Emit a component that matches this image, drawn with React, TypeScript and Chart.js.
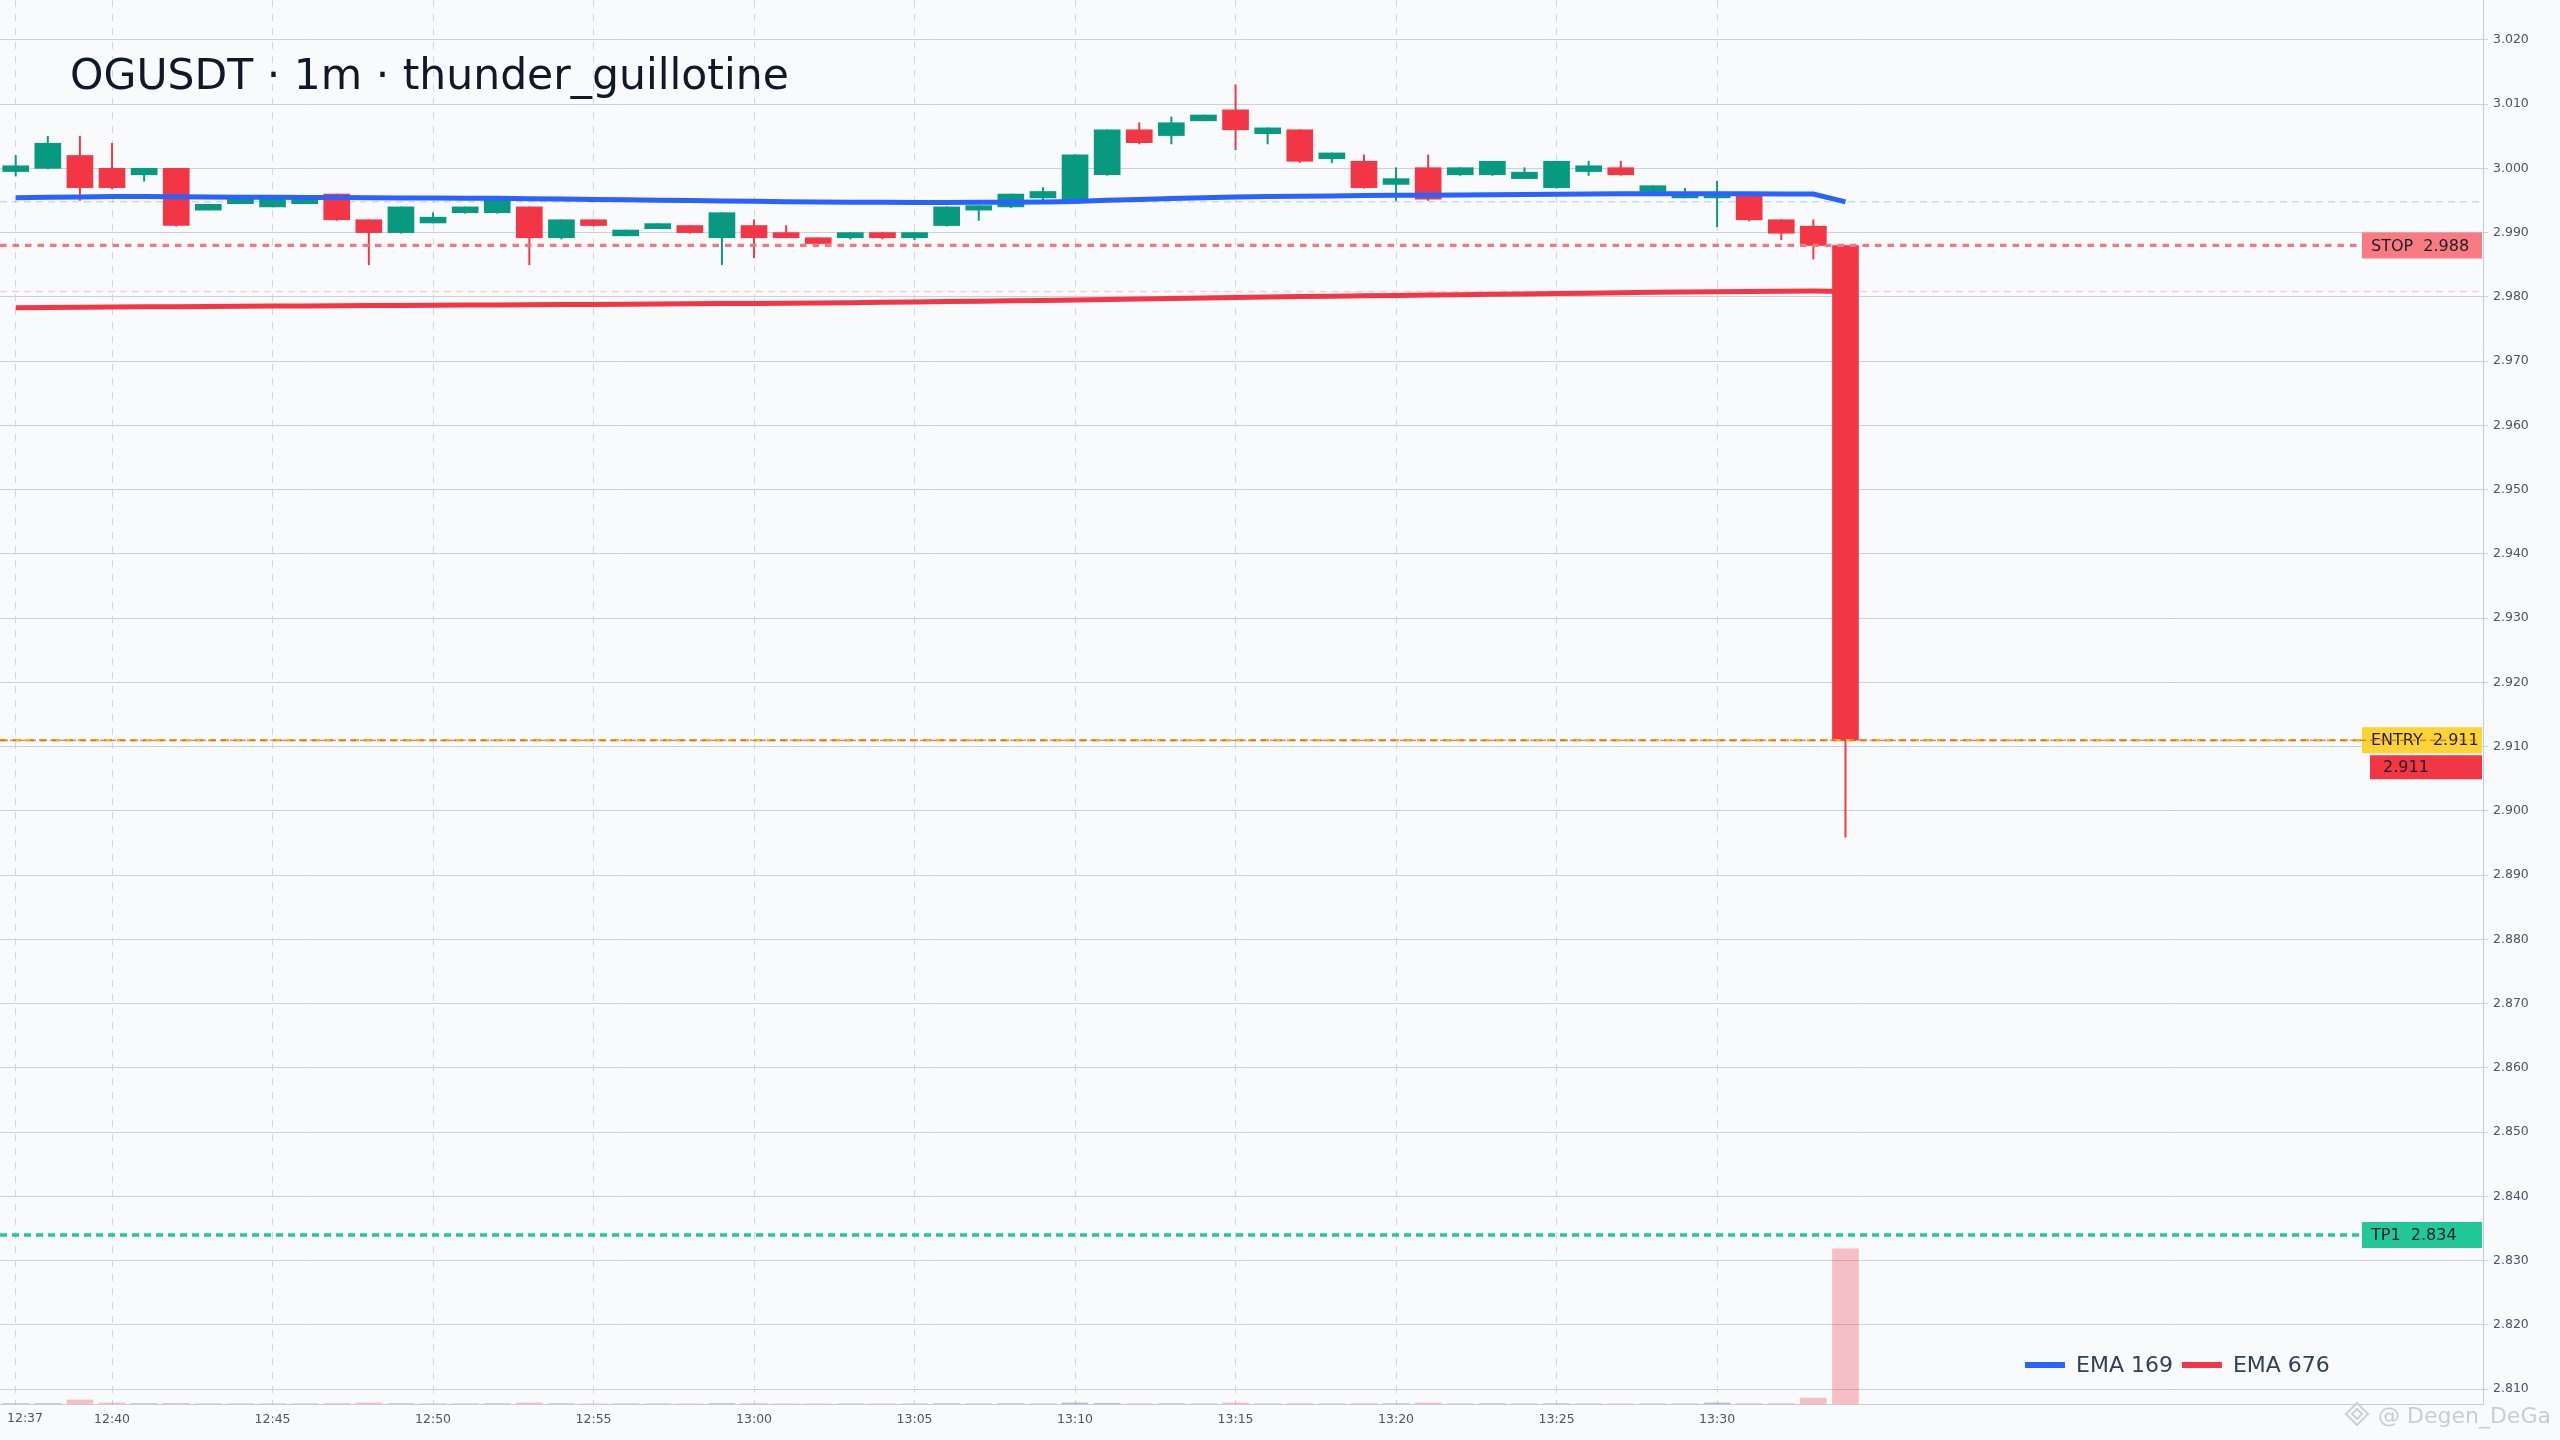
import React, { useEffect, useRef } from 'react';
import { Chart, registerables } from 'chart.js';

Chart.register(...registerables);

// ---- data ----
const TITLE = 'OGUSDT · 1m · thunder_guillotine';

const OPEN = [
  2.9995, 3.0000, 3.0020, 3.0000, 2.9990, 3.0000, 2.9935, 2.9945, 2.9940, 2.9945,
  2.9960, 2.9920, 2.9900, 2.9915, 2.9931, 2.9931, 2.9940, 2.9892, 2.9920, 2.9895,
  2.9906, 2.9911, 2.9892, 2.9911, 2.9900, 2.9892, 2.9892, 2.9900, 2.9892, 2.9911,
  2.9935, 2.9940, 2.9954, 2.9951, 2.9990, 3.0060, 3.0051, 3.0074, 3.0091, 3.0054,
  3.0060, 3.0015, 3.0011, 2.9975, 3.0001, 2.9990, 2.9990, 2.9984, 2.9970, 2.9995,
  3.0001, 2.9964, 2.9954, 2.9954, 2.9957, 2.9920, 2.9910, 2.9880,
];
const HIGH = [
  3.0020, 3.0050, 3.0050, 3.0039, 3.0000, 3.0000, 2.9944, 2.9955, 2.9955, 2.9955,
  2.9960, 2.9920, 2.9940, 2.9931, 2.9940, 2.9951, 2.9940, 2.9920, 2.9920, 2.9904,
  2.9914, 2.9911, 2.9931, 2.9920, 2.9911, 2.9892, 2.9900, 2.9900, 2.9900, 2.9940,
  2.9942, 2.9960, 2.9970, 3.0021, 3.0060, 3.0071, 3.0080, 3.0083, 3.0130, 3.0063,
  3.0060, 3.0024, 3.0021, 3.0001, 3.0021, 3.0001, 3.0011, 3.0001, 3.0011, 3.0011,
  3.0011, 2.9973, 2.9969, 2.9980, 2.9957, 2.9920, 2.9920, 2.9880,
];
const LOW = [
  2.9988, 2.9999, 2.9950, 2.9968, 2.9980, 2.9910, 2.9935, 2.9945, 2.9940, 2.9945,
  2.9919, 2.9850, 2.9899, 2.9915, 2.9930, 2.9930, 2.9850, 2.9890, 2.9910, 2.9895,
  2.9906, 2.9899, 2.9850, 2.9861, 2.9892, 2.9883, 2.9890, 2.9890, 2.9889, 2.9910,
  2.9919, 2.9939, 2.9950, 2.9951, 2.9989, 3.0038, 3.0038, 3.0074, 3.0029, 3.0038,
  3.0009, 3.0009, 2.9969, 2.9950, 2.9950, 2.9989, 2.9989, 2.9984, 2.9969, 2.9989,
  2.9989, 2.9964, 2.9954, 2.9909, 2.9918, 2.9889, 2.9859, 2.8959,
];
const CLOSE = [
  3.0004, 3.0039, 2.9970, 2.9970, 3.0000, 2.9911, 2.9944, 2.9955, 2.9955, 2.9955,
  2.9920, 2.9900, 2.9940, 2.9924, 2.9940, 2.9951, 2.9892, 2.9920, 2.9911, 2.9904,
  2.9914, 2.9900, 2.9931, 2.9892, 2.9892, 2.9883, 2.9900, 2.9892, 2.9900, 2.9940,
  2.9942, 2.9960, 2.9964, 3.0021, 3.0060, 3.0040, 3.0071, 3.0083, 3.0060, 3.0063,
  3.0011, 3.0024, 2.9970, 2.9984, 2.9952, 3.0001, 3.0011, 2.9994, 3.0011, 3.0004,
  2.9990, 2.9973, 2.9959, 2.9959, 2.9920, 2.9899, 2.9880, 2.9110,
];
const VOLUME = [
  2, 3, 26, 7, 2, 4, 1, 1, 1, 1,
  3, 7, 2, 1, 1, 2, 7, 2, 1, 1,
  1, 1, 3, 3, 1, 1, 1, 1, 1, 2,
  1, 2, 1, 7, 4, 2, 2, 1, 7, 1,
  3, 1, 3, 2, 7, 1, 2, 1, 2, 1,
  1, 1, 1, 7, 3, 3, 38, 1000,
];
const EMA169 = [
  2.99544, 2.99550, 2.99556, 2.99560, 2.99563, 2.99558, 2.99555, 2.99552, 2.99550, 2.99548,
  2.99546, 2.99542, 2.99540, 2.99537, 2.99535, 2.99533, 2.99528, 2.99524, 2.99515, 2.99510,
  2.99505, 2.99498, 2.99493, 2.99488, 2.99482, 2.99478, 2.99474, 2.99471, 2.99470, 2.99470,
  2.99472, 2.99474, 2.99476, 2.99486, 2.99502, 2.99517, 2.99530, 2.99542, 2.99553, 2.99560,
  2.99566, 2.99570, 2.99577, 2.99580, 2.99583, 2.99586, 2.99590, 2.99594, 2.99598, 2.99602,
  2.99605, 2.99606, 2.99605, 2.99604, 2.99603, 2.99602, 2.99600, 2.99479,
];
const EMA676 = [
  2.97830, 2.97835, 2.97840, 2.97843, 2.97846, 2.97848, 2.97850, 2.97853, 2.97856, 2.97858,
  2.97861, 2.97864, 2.97866, 2.97869, 2.97872, 2.97875, 2.97878, 2.97880, 2.97883, 2.97886,
  2.97889, 2.97892, 2.97895, 2.97898, 2.97901, 2.97905, 2.97910, 2.97915, 2.97920, 2.97926,
  2.97932, 2.97938, 2.97944, 2.97951, 2.97958, 2.97966, 2.97974, 2.97982, 2.97990, 2.97997,
  2.98004, 2.98010, 2.98016, 2.98022, 2.98028, 2.98034, 2.98040, 2.98046, 2.98052, 2.98058,
  2.98064, 2.98070, 2.98076, 2.98081, 2.98085, 2.98088, 2.98090, 2.98085,
];
const TICK_POS = [0, 3, 8, 13, 18, 23, 28, 33, 38, 43, 48, 53];
const TICK_LABELS = ['12:37', '12:40', '12:45', '12:50', '12:55', '13:00', '13:05', '13:10', '13:15', '13:20', '13:25', '13:30'];
const Y_TICKS = [
  2.81, 2.82, 2.83, 2.84, 2.85, 2.86, 2.87, 2.88, 2.89, 2.9, 2.91,
  2.92, 2.93, 2.94, 2.95, 2.96, 2.97, 2.98, 2.99, 3.0, 3.01, 3.02,
];
const STOP = 2.988;
const ENTRY = 2.911;
const TP1 = 2.834;
const LEGEND = ['EMA 169', 'EMA 676'];
const WATERMARK = '@ Degen_DeGa';

// ---- style ----
const GREEN = '#089981';
const RED = '#f23645';
const BLUE = '#2962ff';
const BG = '#f8fafc';
const FONT = "'DejaVu Sans', sans-serif";
const TICK_COLOR = '#4b5563';

function hLine(ctx: CanvasRenderingContext2D, x1: number, x2: number, y: number, color: string, w: number, dash: number[]) {
  ctx.save();
  ctx.strokeStyle = color;
  ctx.lineWidth = w;
  ctx.setLineDash(dash);
  ctx.beginPath();
  ctx.moveTo(x1, y);
  ctx.lineTo(x2, y);
  ctx.stroke();
  ctx.restore();
}

function tag(ctx: CanvasRenderingContext2D, right: number, cy: number, text: string, bg: string, w: number, h: number, pad: number) {
  ctx.save();
  ctx.fillStyle = bg;
  ctx.fillRect(right - w, cy - h / 2, w, h);
  ctx.fillStyle = '#1b1f24';
  ctx.font = `16px ${FONT}`;
  ctx.textAlign = 'left';
  ctx.textBaseline = 'middle';
  ctx.fillText(text, right - w + pad, cy + 1);
  ctx.restore();
}

const overlayPlugin = {
  id: 'overlay',
  beforeDatasetsDraw(chart: any) {
    const { ctx, chartArea: a, scales } = chart;
    const y = scales.y;
    const last = EMA169.length - 1;
    hLine(ctx, a.left, a.right - 4, y.getPixelForValue(EMA169[last]), 'rgba(41,98,255,0.22)', 1.5, [7, 5]);
    hLine(ctx, a.left, a.right - 4, y.getPixelForValue(EMA676[last]), 'rgba(242,54,69,0.22)', 1.5, [7, 5]);
  },
  afterDatasetsDraw(chart: any) {
    const { ctx, chartArea: a, scales } = chart;
    const y = scales.y;
    const x = scales.x;
    const yStop = y.getPixelForValue(STOP);
    const yEntry = y.getPixelForValue(ENTRY);
    const yTp = y.getPixelForValue(TP1);
    const last = CLOSE[CLOSE.length - 1];
    const yLast = y.getPixelForValue(last);

    hLine(ctx, a.left, a.right, yStop, '#f87580', 3.3, [6.5, 6]);
    hLine(ctx, a.left, a.right, yTp, '#20c997', 3.3, [7, 5]);
    hLine(ctx, a.left, a.right, yEntry, '#f0b90b', 2.6, [8, 5]);

    const r = a.right - 1;
    tag(ctx, r, yStop, `STOP  ${STOP.toFixed(3)}`, '#f87a82', 120, 26, 9);
    tag(ctx, r, yEntry, `ENTRY  ${ENTRY.toFixed(3)}`, '#fcd535', 120, 26, 9);
    tag(ctx, r, yTp, `TP1  ${TP1.toFixed(3)}`, '#22c896', 120, 26, 9);
    tag(ctx, r, yLast + 27, last.toFixed(3), RED, 112, 24, 13);

    hLine(ctx, a.left, a.right - 6, yLast, 'rgba(242,54,69,0.9)', 1, [6, 4]);

    // first x tick label kept inside the canvas
    ctx.save();
    ctx.font = `12.5px ${FONT}`;
    ctx.fillStyle = TICK_COLOR;
    ctx.textAlign = 'left';
    ctx.textBaseline = 'top';
    const fw = ctx.measureText(TICK_LABELS[0]).width;
    const fx = Math.max(x.getPixelForValue(TICK_POS[0]) - fw / 2, 7);
    ctx.fillText(TICK_LABELS[0], fx, a.bottom + 8);
    ctx.restore();

    // legend
    ctx.save();
    ctx.font = `22px ${FONT}`;
    ctx.textBaseline = 'middle';
    ctx.textAlign = 'left';
    const ly = a.bottom - 39;
    let lx = a.right - 458;
    const colors = [BLUE, RED];
    LEGEND.forEach((t, i) => {
      ctx.fillStyle = colors[i];
      ctx.fillRect(lx, ly - 3, 40, 6);
      lx += 51;
      ctx.fillStyle = '#334155';
      ctx.fillText(t, lx, ly + 1);
      lx += ctx.measureText(t).width + 9;
    });
    ctx.restore();

    // title
    ctx.save();
    ctx.font = `42.5px ${FONT}`;
    ctx.fillStyle = '#111827';
    ctx.textAlign = 'left';
    ctx.textBaseline = 'alphabetic';
    ctx.fillText(TITLE, 70, 89);
    ctx.restore();

    // watermark
    ctx.save();
    ctx.strokeStyle = '#cdd0d5';
    ctx.lineWidth = 2;
    const cx = 2357, cy = 1414;
    ctx.beginPath();
    ctx.moveTo(cx, cy - 11); ctx.lineTo(cx + 11, cy); ctx.lineTo(cx, cy + 11); ctx.lineTo(cx - 11, cy); ctx.closePath();
    ctx.stroke();
    ctx.beginPath();
    ctx.moveTo(cx, cy - 5); ctx.lineTo(cx + 5, cy); ctx.lineTo(cx, cy + 5); ctx.lineTo(cx - 5, cy); ctx.closePath();
    ctx.stroke();
    ctx.font = `22px ${FONT}`;
    ctx.fillStyle = '#c9ccd1';
    ctx.textBaseline = 'alphabetic';
    ctx.fillText(WATERMARK, 2378, 1423);
    ctx.restore();
  },
};

export default function App() {
  const ref = useRef<HTMLCanvasElement>(null);
  useEffect(() => {
    document.body.style.margin = '0';
    const canvas = ref.current!;
    Chart.defaults.font.family = FONT;
    const idx = OPEN.map((_, i) => i);
    const up = idx.map((i) => CLOSE[i] >= OPEN[i]);
    const candleColors = idx.map((i) => (up[i] ? GREEN : RED));
    const volColors = idx.map((i) => (up[i] ? 'rgba(100,116,139,0.45)' : 'rgba(242,54,69,0.3)'));

    const chart = new Chart(canvas, {
      type: 'bar',
      data: {
        datasets: [
          {
            type: 'line',
            label: LEGEND[0],
            data: idx.map((i) => ({ x: i, y: EMA169[i] })),
            borderColor: BLUE,
            borderWidth: 5,
            pointRadius: 0,
            tension: 0,
            order: 0,
            yAxisID: 'y',
          },
          {
            type: 'line',
            label: LEGEND[1],
            data: idx.map((i) => ({ x: i, y: EMA676[i] })),
            borderColor: RED,
            borderWidth: 5,
            pointRadius: 0,
            tension: 0,
            order: 0,
            yAxisID: 'y',
          },
          {
            type: 'bar',
            label: 'body',
            data: idx.map((i) => ({ x: i, y: [OPEN[i], CLOSE[i]] })),
            backgroundColor: candleColors,
            barThickness: 26,
            grouped: false,
            order: 1,
            yAxisID: 'y',
          },
          {
            type: 'bar',
            label: 'wick',
            data: idx.map((i) => ({ x: i, y: [LOW[i], HIGH[i]] })),
            backgroundColor: candleColors,
            barThickness: 1.3,
            grouped: false,
            order: 2,
            yAxisID: 'y',
          },
          {
            type: 'bar',
            label: 'volume',
            data: idx.map((i) => ({ x: i, y: VOLUME[i] })),
            backgroundColor: volColors,
            barThickness: 26,
            grouped: false,
            order: 3,
            yAxisID: 'yVol',
          },
        ] as any,
      },
      options: {
        responsive: false,
        animation: false,
        devicePixelRatio: 1,
        events: [],
        layout: { padding: 0 },
        plugins: {
          legend: { display: false },
          tooltip: { enabled: false },
          title: { display: false },
        },
        scales: {
          x: {
            type: 'linear',
            min: -0.49,
            max: 76.86,
            offset: false,
            position: 'bottom',
            afterBuildTicks: (s: any) => {
              s.ticks = TICK_POS.map((v) => ({ value: v }));
            },
            afterFit: (s: any) => {
              s.height = 36;
              s.paddingLeft = 0;
              s.paddingRight = 0;
              s.paddingTop = 0;
              s.paddingBottom = 0;
            },
            ticks: {
              autoSkip: false,
              maxRotation: 0,
              padding: 8,
              color: TICK_COLOR,
              font: { size: 12.5, family: FONT },
              callback: (v: any) => {
                const k = TICK_POS.indexOf(Number(v));
                return k > 0 ? TICK_LABELS[k] : '';
              },
            },
            grid: { color: '#d0d7e1', lineWidth: 1, drawTicks: false, offset: false },
            border: { display: true, color: '#c3ccd8', width: 1, dash: [7, 7] },
          },
          y: {
            type: 'linear',
            position: 'right',
            min: 2.8077,
            max: 3.0262,
            afterBuildTicks: (s: any) => {
              s.ticks = Y_TICKS.map((v) => ({ value: v }));
            },
            afterFit: (s: any) => {
              s.width = 77;
              s.paddingLeft = 0;
              s.paddingRight = 0;
              s.paddingTop = 0;
              s.paddingBottom = 0;
            },
            ticks: {
              autoSkip: false,
              padding: 5,
              color: TICK_COLOR,
              font: { size: 12.5, family: FONT },
              callback: (v: any) => Number(v).toFixed(3),
            },
            grid: { color: '#c9d1dc', lineWidth: 1, drawTicks: true, tickLength: 5 },
            border: { display: true, color: '#c3ccd8', width: 1 },
          },
          yVol: {
            type: 'linear',
            display: false,
            min: 0,
            max: 9050,
          },
        },
      } as any,
      plugins: [overlayPlugin],
    });
    return () => chart.destroy();
  }, []);

  return (
    <div style={{ position: 'fixed', left: 0, top: 0, width: 2560, height: 1440, background: BG }}>
      <canvas ref={ref} width={2560} height={1440} style={{ display: 'block', width: 2560, height: 1440 }} />
    </div>
  );
}
